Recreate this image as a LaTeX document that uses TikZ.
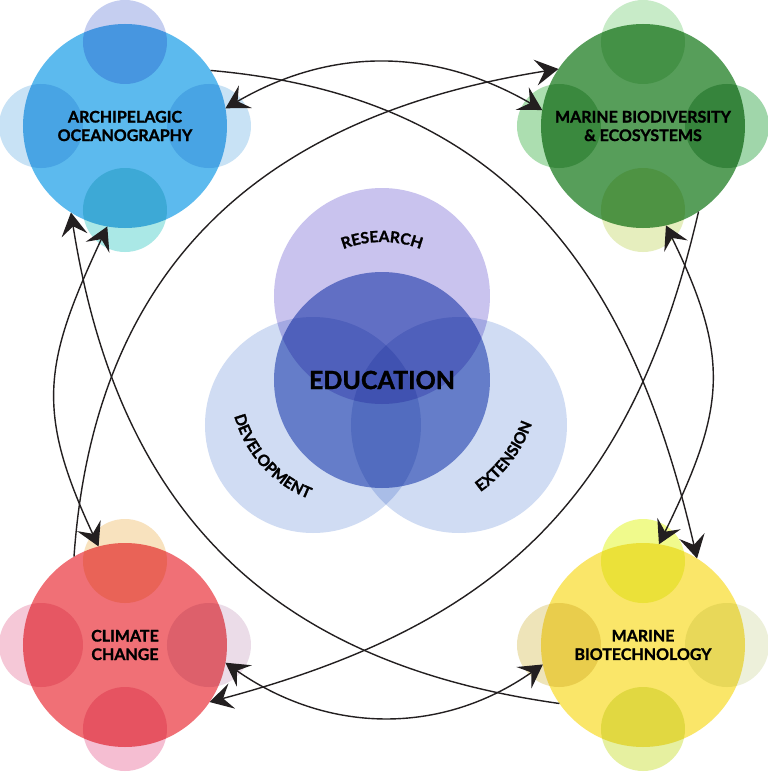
\documentclass[tikz,border=0pt]{standalone}
\usepackage{fontspec}
\setmainfont{Lato}[BoldFeatures={FakeBold=1.3}]
\usetikzlibrary{arrows.meta,decorations.text}

\definecolor{ink}{RGB}{35,31,32}
% corner clusters
\definecolor{oceanMain}{RGB}{92,186,238}
\definecolor{oceanTop}{RGB}{197,206,240}
\definecolor{oceanSide}{RGB}{200,226,245}
\definecolor{oceanLow}{RGB}{170,232,230}
\definecolor{bioMain}{RGB}{87,158,90}
\definecolor{bioTop}{RGB}{200,235,200}
\definecolor{bioLeft}{RGB}{172,222,176}
\definecolor{bioRight}{RGB}{160,214,170}
\definecolor{bioLow}{RGB}{230,238,190}
\definecolor{climMain}{RGB}{240,112,118}
\definecolor{climTop}{RGB}{248,226,190}
\definecolor{climLeft}{RGB}{245,200,215}
\definecolor{climRight}{RGB}{235,220,232}
\definecolor{climLow}{RGB}{245,190,210}
\definecolor{techMain}{RGB}{250,230,105}
\definecolor{techTop}{RGB}{240,250,140}
\definecolor{techLeft}{RGB}{238,228,185}
\definecolor{techRight}{RGB}{237,240,218}
\definecolor{techLow}{RGB}{230,240,160}
% centre
\definecolor{researchC}{RGB}{201,195,238}
\definecolor{sideC}{RGB}{208,220,243}
\definecolor{eduC}{RGB}{124,146,211}

\newcommand{\arcfont}{\bfseries\fontsize{15.5}{15.5}\selectfont}

\tikzset{
    hub/.style={
        circle, minimum size=204pt, inner sep=0pt, outer sep=0pt,
        align=center, font=\bfseries\fontsize{16}{18.5}\selectfont
    },
    petal/.style={circle, minimum size=84pt, inner sep=0pt, outer sep=0pt},
    core/.style={circle, minimum size=216pt, inner sep=0pt, outer sep=0pt},
    barb/.tip={Stealth[length=23pt,width=26pt,inset=9pt]},
    link/.style={draw=ink, line width=1.4pt, -barb},
    twoway/.style={draw=ink, line width=1.4pt, barb-barb}
}
\newcommand{\cluster}[9] {
	\node[hub, fill=#4] (#1) at (#2,#3) {#9};
	\node[petal, fill=#5] (#1t) at (#2,#3+84) {};
	\node[petal, fill=#6] (#1l) at (#2-84,#3) {};
	\node[petal, fill=#7] (#1r) at (#2+84,#3) {};
	\node[petal, fill=#8] (#1b) at (#2,#3-84) {};
}

\begin{document}
\begin{tikzpicture}[x=1pt,y=1pt]
		\useasboundingbox (-384,-386) rectangle (384,386);
		\fill[white] (-384,-386) rectangle (384,386);

		\begin{scope}[blend mode=multiply]
		% Centre
		\node[core, fill=researchC] (research) at (-2,90) {};
		\node[core, fill=sideC] (development) at (-71,-39) {};
		\node[core, fill=sideC] (extension) at (75,-39) {};
		\node[core, fill=eduC, font=\bfseries\fontsize{25}{25}\selectfont] (education) at (-2,6) {EDUCATION};

		% Corners
		\cluster{ocean}{-259}{260}{oceanMain}{oceanTop}{oceanSide}{oceanSide}{oceanLow}{ARCHIPELAGIC\\OCEANOGRAPHY}
		\cluster{biodiv}{259}{260}{bioMain}{bioTop}{bioLeft}{bioRight}{bioLow}{MARINE BIODIVERSITY\\\& ECOSYSTEMS}
		\cluster{climate}{-259}{-259}{climMain}{climTop}{climLeft}{climRight}{climLow}{CLIMATE\\CHANGE}
		\cluster{biotech}{259}{-259}{techMain}{techTop}{techLeft}{techRight}{techLow}{MARINE\\BIOTECHNOLOGY}
		\end{scope}

		% Curved labels
		\path[decorate, decoration={text along path, text align=center, text={|\arcfont|RESEARCH}}]
			(-2,35) ++(117:109) arc[start angle=117, end angle=63, radius=109];
		\path[decorate, decoration={text along path, text align=center, text={|\arcfont|DEVELOPMENT}}]
			(-31,2) ++(170:123) arc[start angle=170, end angle=274, radius=123];
		\path[decorate, decoration={text along path, text align=center, text={|\arcfont|EXTENSION}}]
			(15,9) ++(276:141) arc[start angle=276, end angle=370, radius=141];

		% Long links
		\draw[link] (ocean.33) to[out=-5, in=103, looseness=1.1] (biotech.58);
		\draw[link] (climate.120) to[out=86, in=189, looseness=1.1] (biodiv.146);
		\draw[link] (biotech.215) to[out=172, in=279, looseness=1.1] (ocean.238);
		\draw[link] (biodiv.303) to[out=257, in=15, looseness=1.1] (climate.326);

		% Short links
		\draw[twoway] (ocean.10) to[out=30, in=150] (biodiv.171);
		\draw[twoway] (ocean.260) to[out=245, in=115, looseness=1.2] (climate.105);
		\draw[twoway] (biodiv.283) to[out=296, in=64, looseness=1.2] (biotech.81);
		\draw[twoway] (climate.350) to[out=-35, in=215] (biotech.191);
	\end{tikzpicture}
\end{document}
